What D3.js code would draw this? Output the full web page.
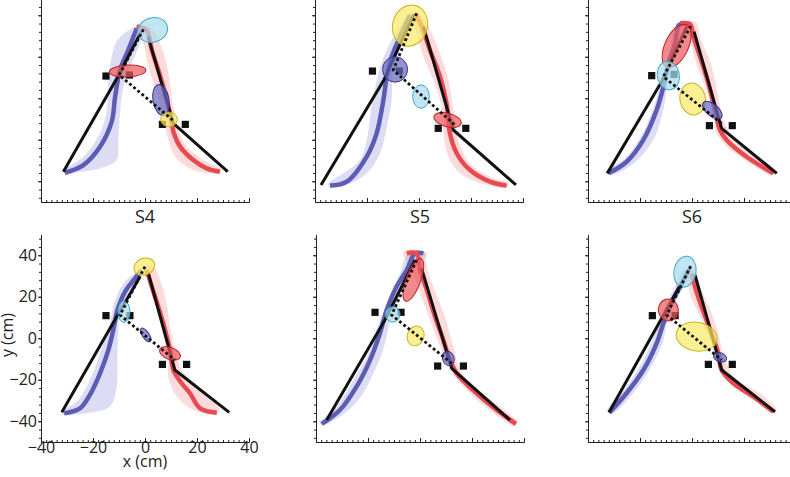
<!DOCTYPE html>
<html>
<head>
<meta charset="utf-8">
<script src="https://cdn.jsdelivr.net/npm/d3@7"></script>
<style>
body { margin: 0; background: #fff; }
text { font-family: "Open Sans", sans-serif; }
</style>
</head>
<body>
<svg width="790" height="477"></svg>
<script>
// panel titles (top row titles are cut off in the figure)
var titles = ["", "", "", "S4", "S5", "S6"];
var xTicks = [-40, -20, 0, 20, 40];
var yTicks = [-40, -20, 0, 20, 40];

// black stick legs : ankle-knee-hip and hip-knee-ankle (cm)
var leftLeg = [
  [[-31.4, -35.4], [-10.3, 10.7], [-1.3, 32.6]],
  [[-37.7, -41.8], [-13.5, 8.8], [-1.9, 40.6]],
  [[-32.6, -36.2], [-11.7, 8.0], [-2.0, 34.5]],
  [[-32.0, -35.7], [-10.9, 10.4], [-1.9, 29.7]],
  [[-35.9, -39.4], [-13.5, 8.8], [-1.9, 37.7]],
  [[-31.9, -35.7], [-11.65, 9.6], [-0.5, 34.5]]
];
var rightLeg = [
  [[1.2, 29.7], [10.9, -12.1], [31.8, -35.4]],
  [[1.7, 34.5], [13.2, -15.3], [37.3, -41.8]],
  [[0.8, 32.1], [11.4, -14.5], [32.6, -36.2]],
  [[1.3, 31.3], [11.5, -15.3], [32.4, -35.7]],
  [[0.6, 33.7], [12.2, -14.5], [34.6, -39.4]],
  [[1.15, 30.5], [11.4, -15.3], [31.9, -35.4]]
];
// dotted line hip -> knee -> knee
var dotted = [
  [[-0.6, 33.2], [-9.9, 11.2], [10.9, -10.8]],
  [[-0.9, 40.9], [-9.9, 13.6], [13.85, -12.9]],
  [[-0.5, 34.8], [-11.0, 10.4], [11.4, -12.1]],
  [[0.0, 34.5], [-9.6, 11.2], [11.5, -10.5]],
  [[-1.3, 37.7], [-10.9, 11.2], [12.2, -12.1]],
  [[-0.5, 34.8], [-9.7, 11.2], [11.4, -10.5]]
];
// square markers
var markers = [
  [[-15.0, 10.7], [-6.0, 11.2], [6.7, -12.6], [15.5, -12.6]],
  [[-17.9, 13.1], [-7.6, 13.1], [7.4, -14.5], [18.0, -14.5]],
  [[-15.5, 10.9], [-6.9, 11.5], [6.7, -13.2], [15.5, -13.2]],
  [[-15.0, 10.9], [-5.8, 10.9], [6.7, -12.6], [16.0, -12.6]],
  [[-17.3, 12.5], [-7.3, 12.5], [6.8, -13.4], [16.7, -13.4]],
  [[-15.25, 10.9], [-6.5, 10.9], [6.3, -12.6], [15.5, -12.6]]
];

// mean trajectories
var blueMean = [
  [[-30.8, -35.9], [-23.7, -32.2], [-17.3, -23.4], [-12.8, -11.3], [-11.5, 0.7], [-9.6, 13.6], [-6.4, 23.3], [-3.2, 33.7]],
  [[-34.2, -42.1], [-27.8, -40.2], [-20.1, -28.1], [-16.3, -16.9], [-13.7, -0.85], [-12.4, 10.4], [-10.5, 20.0], [-7.3, 29.7], [-3.45, 40.1]],
  [[-32.2, -36.2], [-25.1, -30.6], [-18.7, -20.1], [-13.6, -5.7], [-11.0, 5.6], [-9.1, 16.8], [-6.5, 26.5], [-4.9, 35.3], [-1.4, 35.8]],
  [[-31.1, -36.2], [-25.0, -33.8], [-21.2, -27.3], [-17.3, -16.9], [-14.1, -5.7], [-12.2, 4.0], [-10.6, 13.6], [-7.7, 22.4], [-3.85, 28.9], [-1.3, 32.9]],
  [[-37.8, -41.3], [-30.8, -34.6], [-24.4, -23.3], [-19.2, -10.5], [-15.4, 2.4], [-12.8, 13.6], [-9.0, 24.9], [-5.1, 32.9], [-1.9, 40.9], [1.3, 40.9]],
  [[-31.8, -35.9], [-25.2, -26.5], [-18.7, -15.3], [-13.6, -2.45], [-11.0, 7.2], [-7.8, 17.6], [-4.6, 24.9], [-1.4, 32.9]]
];
var redMean = [
  [[-3.2, 34.5], [0.6, 32.9], [2.6, 23.3], [5.1, 13.6], [7.7, 2.4], [9.6, -7.3], [11.1, -16.9], [13.5, -23.3], [18.6, -29.8], [23.7, -33.8], [28.8, -35.4]],
  [[-1.5, 40.9], [1.05, 34.5], [4.2, 23.3], [8.1, 10.4], [10.6, -2.45], [11.9, -16.9], [14.5, -26.5], [19.6, -34.6], [27.3, -40.2], [33.7, -42.1]],
  [[-4.6, 36.1], [-0.8, 35.8], [0.5, 29.7], [3.1, 20.0], [6.3, 7.2], [8.85, -5.7], [10.8, -15.3], [13.3, -20.1], [21.0, -28.2], [31.3, -36.2]],
  [[0.6, 32.9], [2.6, 24.9], [5.1, 15.2], [7.7, 4.0], [9.6, -5.7], [10.9, -15.3], [14.1, -21.7], [17.3, -26.5], [21.2, -33.8], [27.6, -35.9]],
  [[-5.1, 40.9], [-1.3, 40.9], [0.0, 32.9], [2.6, 23.3], [5.8, 10.4], [8.97, -0.8], [11.5, -10.5], [14.1, -16.9], [21.8, -26.5], [29.5, -34.6], [36.9, -41.3]],
  [[-0.12, 31.3], [1.15, 24.9], [3.7, 15.2], [7.0, 4.0], [10.1, -7.3], [11.4, -15.3], [15.9, -21.7], [23.6, -28.2], [31.3, -35.4]]
];

// variability bands (outline, closed)
var blueBand = [
  [[-31.4, -34.9], [-23.7, -28.2], [-17.3, -16.9], [-14.7, -5.7], [-14.1, 7.2], [-12.8, 20.0], [-10.9, 27.3], [-7.05, 32.1], [-1.9, 34.8],
   [-0.6, 32.9], [-1.9, 26.5], [-5.1, 16.8], [-8.3, 5.6], [-9.6, -7.3], [-10.3, -20.1], [-10.9, -29.8], [-17.3, -33.8], [-25.0, -35.4], [-30.8, -36.2]],
  [[-34.9, -41.3], [-29.1, -36.2], [-22.7, -29.8], [-20.1, -20.1], [-18.2, -4.05], [-15.6, 12.0], [-11.8, 24.9], [-7.3, 34.5], [-3.45, 40.9],
   [-1.5, 40.1], [-6.0, 28.1], [-9.9, 15.2], [-10.5, -0.85], [-12.4, -13.7], [-15.0, -26.5], [-20.1, -36.2], [-27.8, -41.8], [-34.2, -42.9]],
  [[-32.8, -35.4], [-25.1, -28.2], [-18.7, -16.1], [-14.2, -2.45], [-11.7, 8.8], [-9.1, 20.0], [-5.9, 36.1],
   [-1.4, 36.4], [-5.9, 23.3], [-9.1, 8.8], [-10.8, -4.05], [-14.9, -20.1], [-23.2, -32.2], [-31.5, -37.0]],
  [[-32.05, -35.4], [-26.3, -30.6], [-21.2, -20.1], [-17.3, -7.3], [-13.5, 7.2], [-11.5, 18.4], [-7.7, 27.3], [-1.9, 32.1],
   [-1.3, 29.7], [-5.8, 23.3], [-9.0, 15.2], [-10.3, 4.0], [-10.6, -10.5], [-10.9, -23.3], [-13.5, -32.95], [-21.2, -35.9], [-30.8, -36.7]],
  [[-38.5, -41.0], [-32.0, -32.95], [-25.6, -20.1], [-19.2, -5.7], [-15.4, 8.8], [-11.5, 20.0], [-7.7, 31.3], [-4.5, 40.9],
   [2.6, 40.9], [-3.2, 31.3], [-7.7, 20.85], [-11.3, 8.8], [-13.85, -4.05], [-17.3, -15.3], [-23.7, -29.8], [-30.8, -37.8], [-37.2, -41.8]],
  [[-32.6, -34.9], [-25.1, -23.3], [-18.7, -10.5], [-14.2, 2.4], [-11.0, 13.6], [-7.2, 23.3], [-2.7, 33.7],
   [-0.12, 32.1], [-4.6, 21.7], [-9.1, 10.4], [-11.0, -0.8], [-14.9, -12.1], [-22.6, -26.5], [-30.9, -36.5]]
];
var redBand = [
  [[-3.2, 34.8], [-0.6, 26.5], [1.3, 15.2], [4.5, 2.4], [7.05, -10.5], [9.0, -20.1], [11.5, -28.1], [17.3, -33.8], [27.6, -36.2],
   [29.5, -34.6], [22.4, -29.8], [16.0, -23.3], [12.8, -15.3], [10.9, -4.05], [9.6, 7.2], [8.3, 16.8], [5.8, 26.5], [3.2, 32.9], [0.0, 35.3]],
  [[-1.5, 41.7], [-0.9, 31.3], [1.7, 20.0], [5.5, 8.8], [8.7, -4.05], [9.4, -16.9], [11.3, -28.1], [15.8, -36.2], [26.0, -41.8], [33.7, -42.9],
   [34.4, -41.0], [27.3, -37.8], [19.6, -31.4], [15.1, -20.1], [13.2, -5.7], [11.3, 8.8], [8.1, 21.6], [4.9, 31.3], [1.7, 38.5]],
  [[-1.4, 36.9], [-0.8, 29.7], [1.2, 18.4], [5.0, 5.6], [8.2, -7.3], [9.5, -16.9], [13.3, -23.3], [22.3, -31.4], [30.6, -37.0],
   [32.6, -35.4], [23.6, -26.5], [15.9, -18.5], [12.05, -10.5], [10.1, 0.8], [7.6, 15.2], [3.1, 29.7], [1.8, 36.4]],
  [[0.6, 34.5], [1.9, 24.9], [4.5, 13.6], [7.05, 0.8], [9.0, -8.9], [9.0, -18.5], [12.2, -28.1], [18.6, -34.6], [26.3, -36.5],
   [28.8, -34.6], [23.7, -28.1], [18.6, -21.7], [14.1, -15.3], [11.5, -5.7], [9.6, 5.6], [8.3, 16.8], [5.8, 28.1], [2.6, 35.3]],
  [[-6.4, 41.7], [-3.2, 32.9], [0.0, 21.7], [3.85, 8.8], [7.7, -4.05], [10.9, -13.7], [16.7, -23.3], [28.2, -36.2], [36.5, -42.3],
   [37.2, -40.2], [30.8, -32.95], [20.5, -23.3], [15.4, -15.3], [12.8, -4.05], [9.6, 10.4], [5.1, 24.9], [2.6, 34.5], [1.3, 41.7]],
  [[-1.4, 32.9], [-0.77, 21.7], [3.1, 10.4], [7.0, -0.8], [9.5, -10.5], [12.05, -18.5], [18.5, -24.9], [27.4, -32.95], [31.9, -36.2],
   [32.6, -34.6], [26.2, -26.5], [17.2, -20.1], [12.7, -10.5], [10.1, 2.4], [7.6, 12.0], [3.1, 24.9], [1.15, 32.9]]
];

// ellipses: cx, cy, rx, ry (cm), tilt (deg), phase
var ellipses = [
  [[2.95, 32.9, 5.8, 4.7, -15, "cyan"], [-6.67, 13.1, 7.05, 2.3, -3, "red"], [6.15, -0.85, 3.1, 6.0, -10, "blue"], [9.23, -10.2, 3.2, 2.8, 0, "yellow"]],
  [[-3.45, 35.0, 6.7, 8.0, 15, "yellow"], [-9.2, 13.9, 4.8, 4.9, 0, "blue"], [0.77, 0.8, 3.2, 4.5, 0, "cyan"], [11.0, -10.5, 5.4, 2.6, 15, "red"]],
  [[-5.9, 25.2, 4.5, 9.0, 25, "red"], [-9.1, 10.9, 4.2, 5.5, -10, "cyan"], [0.26, -0.35, 4.9, 6.15, -10, "yellow"], [7.8, -5.7, 4.5, 2.3, 40, "blue"]],
  [[-0.26, 34.5, 4.1, 3.2, -20, "yellow"], [-8.1, 12.8, 2.3, 4.1, 0, "cyan"], [0.26, 1.6, 1.3, 3.1, -35, "blue"], [9.6, -7.3, 4.2, 2.3, 20, "red"]],
  [[-2.56, 28.1, 2.8, 8.7, 20, "red"], [-10.5, 11.5, 2.8, 2.95, 0, "cyan"], [-1.67, 1.1, 3.2, 3.85, 20, "yellow"], [10.9, -9.7, 2.2, 2.8, -20, "blue"]],
  [[-2.7, 32.1, 4.2, 6.0, 10, "cyan"], [-9.1, 13.6, 3.85, 4.2, -10, "red"], [1.8, 0.77, 7.95, 5.5, 10, "yellow"], [10.8, -9.2, 2.6, 1.7, 20, "blue"]]
];

var svg = d3.select("svg");
var W = 208, H = 207.5;
var origins = [[41, -5.5], [315, -5.5], [588, -5.5], [41, 234.5], [316, 234.5], [588, 234.5]];

var x = d3.scaleLinear().domain([-40, 40]).range([0, W]);
var y = d3.scaleLinear().domain([-50, 50]).range([H, 0]);
var k = x(1) - x(0);

var fillColor = d3.scaleOrdinal().domain(["cyan", "red", "blue", "yellow"]).range(["#a9dcec", "#ec5b5e", "#6a6ac0", "#f8ea6a"]);
var edgeColor = d3.scaleOrdinal().domain(["cyan", "red", "blue", "yellow"]).range(["#3ea8d0", "#b8222b", "#34348e", "#cbb21a"]);

var straight = d3.line().x(d => x(d[0])).y(d => y(d[1]));
var smooth = d3.line().x(d => x(d[0])).y(d => y(d[1])).curve(d3.curveCatmullRom);
var outline = d3.line().x(d => x(d[0])).y(d => y(d[1])).curve(d3.curveCatmullRomClosed);

var xMinor = d3.range(-40, 41, 2);
var yMinor = d3.range(-48, 49, 4);

origins.forEach(function(o, i) {
  var g = svg.append("g").attr("transform", "translate(" + o[0] + "," + o[1] + ")");
  var labelled = (i === 3);

  // axes
  var xa = g.append("g").attr("transform", "translate(0," + H + ")");
  xa.call(d3.axisBottom(x).tickValues(xMinor).tickSize(-2).tickSizeOuter(0).tickFormat(""));
  xa.append("g").call(d3.axisBottom(x).tickValues(xTicks).tickSize(-4).tickSizeOuter(0).tickPadding(0)
    .tickFormat(labelled ? d3.format("d") : ""));
  var ya = g.append("g");
  ya.call(d3.axisLeft(y).tickValues(yMinor).tickSize(2).tickSizeOuter(0).tickFormat(""));
  ya.append("g").call(d3.axisLeft(y).tickValues(yTicks).tickSize(3).tickSizeOuter(0).tickPadding(1)
    .tickFormat(labelled ? d3.format("d") : ""));
  g.selectAll(".tick text").attr("font-family", "Open Sans, sans-serif").attr("font-size", 16).attr("fill", "#222");
  g.selectAll(".domain, .tick line").attr("stroke", "#222");

  // variability bands
  g.append("path").attr("d", outline(blueBand[i])).attr("fill", "#8080d8").attr("fill-opacity", 0.28);
  g.append("path").attr("d", outline(redBand[i])).attr("fill", "#f39090").attr("fill-opacity", 0.32);

  // mean trajectories
  g.append("path").attr("d", smooth(blueMean[i])).attr("fill", "none").attr("stroke", "#5c5cb5").attr("stroke-width", 4.5);
  g.append("path").attr("d", smooth(redMean[i])).attr("fill", "none").attr("stroke", "#e84a51").attr("stroke-width", 4.5);

  // stick legs
  [leftLeg[i], rightLeg[i]].forEach(function(leg) {
    g.append("path").attr("d", straight(leg)).attr("fill", "none").attr("stroke", "#111")
      .attr("stroke-width", 3).attr("stroke-linejoin", "round");
  });

  // square markers
  g.selectAll("rect.mk").data(markers[i]).join("rect").attr("class", "mk")
    .attr("x", d => x(d[0]) - 3.6).attr("y", d => y(d[1]) - 3.6)
    .attr("width", 7.2).attr("height", 7.2).attr("fill", "#111");

  // ellipses
  g.selectAll("ellipse").data(ellipses[i]).join("ellipse")
    .attr("cx", d => x(d[0])).attr("cy", d => y(d[1]))
    .attr("rx", d => d[2] * k).attr("ry", d => d[3] * k)
    .attr("transform", d => "rotate(" + d[4] + "," + x(d[0]) + "," + y(d[1]) + ")")
    .attr("fill", d => fillColor(d[5])).attr("fill-opacity", 0.72)
    .attr("stroke", d => edgeColor(d[5])).attr("stroke-width", 1);

  // dotted line
  g.append("path").attr("d", straight(dotted[i])).attr("fill", "none").attr("stroke", "#111")
    .attr("stroke-width", 2.8).attr("stroke-dasharray", "2.8 2.6");

  if (titles[i]) {
    g.append("text").attr("x", W / 2).attr("y", 223 - o[1]).attr("text-anchor", "middle")
      .attr("font-size", 18).attr("fill", "#222").text(titles[i]);
  }
  if (labelled) {
    g.append("text").attr("x", W / 2).attr("y", H + 25).attr("text-anchor", "middle")
      .attr("font-size", 16).attr("fill", "#222").text("x (cm)");
    g.append("text").attr("transform", "translate(-28.5," + (335 - o[1]) + ") rotate(-90)")
      .attr("text-anchor", "middle").attr("font-size", 16).attr("fill", "#222").text("y (cm)");
  }
});
</script>
</body>
</html>
